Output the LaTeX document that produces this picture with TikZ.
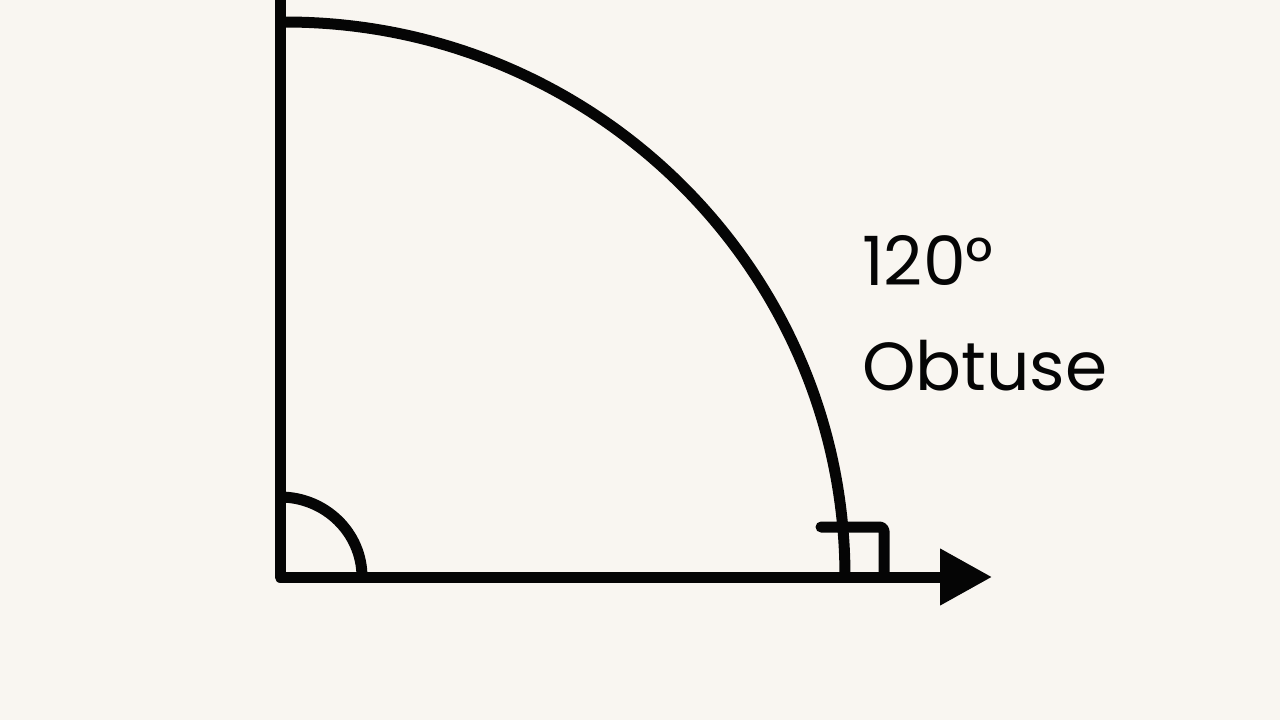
\documentclass[tikz,border=0pt]{standalone}
\usepackage{fontspec}
\setmainfont{Poppins}
\usetikzlibrary{arrows.meta}
\definecolor{bg}{HTML}{F9F6F1}
\definecolor{ink}{HTML}{050505}
\tikzset{
  stroke/.style={draw=ink, line width=11pt, line join=round},
  label/.style={anchor=base west, inner sep=0pt, text=ink, font=\fontsize{68}{80}\selectfont}
}
\begin{document}
\begin{tikzpicture}[x=1pt,y=-1pt]
  \fill[bg] (0,0) rectangle (1280,720);
  \useasboundingbox (0,0) rectangle (1280,720);
  \coordinate (O) at (280,577);
  \coordinate (top) at (280,-10);
  \coordinate (end) at (992,577);
  % axes
  \draw[stroke, -{Triangle[length=52pt,width=54pt]}] (top) -- (O) -- (end);
  % big arc
  \draw[stroke] (285,22) arc[start angle=90, end angle=0, x radius=560, y radius=-555];
  % small angle arc
  \draw[stroke] (280,497) arc[start angle=90, end angle=0, x radius=82, y radius=-80];
  % right-angle marker
  \draw[stroke, line cap=round, rounded corners=4pt] (821,527) -- (884,527) -- (884,577);
  \node[label] (deg) at (862,285) {120°};
  \node[label] (kind) at (862,390) {Obtuse};
\end{tikzpicture}
\end{document}
